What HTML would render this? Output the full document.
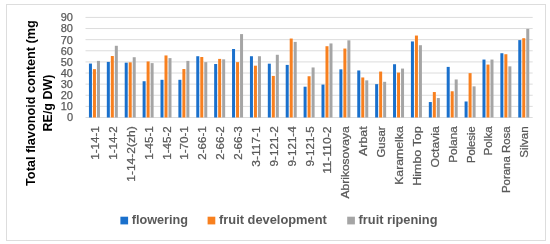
<!DOCTYPE html>
<html><head><meta charset="utf-8"><title>chart</title>
<style>html,body{margin:0;padding:0;background:#fff}body{width:550px;height:244px;overflow:hidden}svg{display:block}text{font-family:"Liberation Sans",sans-serif}</style></head><body>
<svg width="550" height="244" viewBox="0 0 550 244">
<rect x="0" y="0" width="550" height="244" fill="#fff"/>
<rect x="6.5" y="4.5" width="539" height="236" fill="#fff" stroke="#dddddd" stroke-width="1"/>
<line x1="85.5" y1="117.50" x2="532.7" y2="117.50" stroke="#dcdcdc" stroke-width="1"/>
<line x1="85.5" y1="106.38" x2="532.7" y2="106.38" stroke="#dcdcdc" stroke-width="1"/>
<line x1="85.5" y1="95.26" x2="532.7" y2="95.26" stroke="#dcdcdc" stroke-width="1"/>
<line x1="85.5" y1="84.14" x2="532.7" y2="84.14" stroke="#dcdcdc" stroke-width="1"/>
<line x1="85.5" y1="73.02" x2="532.7" y2="73.02" stroke="#dcdcdc" stroke-width="1"/>
<line x1="85.5" y1="61.90" x2="532.7" y2="61.90" stroke="#dcdcdc" stroke-width="1"/>
<line x1="85.5" y1="50.78" x2="532.7" y2="50.78" stroke="#dcdcdc" stroke-width="1"/>
<line x1="85.5" y1="39.66" x2="532.7" y2="39.66" stroke="#dcdcdc" stroke-width="1"/>
<line x1="85.5" y1="28.54" x2="532.7" y2="28.54" stroke="#dcdcdc" stroke-width="1"/>
<line x1="85.5" y1="17.42" x2="532.7" y2="17.42" stroke="#dcdcdc" stroke-width="1"/>
<rect x="88.94" y="63.57" width="3.0" height="53.93" fill="#1A70CC"/>
<rect x="92.94" y="69.13" width="3.0" height="48.37" fill="#F8801F"/>
<rect x="96.94" y="60.90" width="3.0" height="56.60" fill="#A5A5A5"/>
<rect x="106.83" y="61.90" width="3.0" height="55.60" fill="#1A70CC"/>
<rect x="110.83" y="56.01" width="3.0" height="61.49" fill="#F8801F"/>
<rect x="114.83" y="45.78" width="3.0" height="71.72" fill="#A5A5A5"/>
<rect x="124.72" y="62.68" width="3.0" height="54.82" fill="#1A70CC"/>
<rect x="128.72" y="62.34" width="3.0" height="55.16" fill="#F8801F"/>
<rect x="132.72" y="57.23" width="3.0" height="60.27" fill="#A5A5A5"/>
<rect x="142.61" y="81.25" width="3.0" height="36.25" fill="#1A70CC"/>
<rect x="146.61" y="61.46" width="3.0" height="56.04" fill="#F8801F"/>
<rect x="150.61" y="63.12" width="3.0" height="54.38" fill="#A5A5A5"/>
<rect x="160.50" y="79.80" width="3.0" height="37.70" fill="#1A70CC"/>
<rect x="164.50" y="55.45" width="3.0" height="62.05" fill="#F8801F"/>
<rect x="168.50" y="58.12" width="3.0" height="59.38" fill="#A5A5A5"/>
<rect x="178.38" y="79.80" width="3.0" height="37.70" fill="#1A70CC"/>
<rect x="182.38" y="69.02" width="3.0" height="48.48" fill="#F8801F"/>
<rect x="186.38" y="60.90" width="3.0" height="56.60" fill="#A5A5A5"/>
<rect x="196.27" y="56.23" width="3.0" height="61.27" fill="#1A70CC"/>
<rect x="200.27" y="57.01" width="3.0" height="60.49" fill="#F8801F"/>
<rect x="204.27" y="62.12" width="3.0" height="55.38" fill="#A5A5A5"/>
<rect x="214.16" y="64.01" width="3.0" height="53.49" fill="#1A70CC"/>
<rect x="218.16" y="58.90" width="3.0" height="58.60" fill="#F8801F"/>
<rect x="222.16" y="59.34" width="3.0" height="58.16" fill="#A5A5A5"/>
<rect x="232.05" y="49.00" width="3.0" height="68.50" fill="#1A70CC"/>
<rect x="236.05" y="62.12" width="3.0" height="55.38" fill="#F8801F"/>
<rect x="240.05" y="34.10" width="3.0" height="83.40" fill="#A5A5A5"/>
<rect x="249.94" y="56.23" width="3.0" height="61.27" fill="#1A70CC"/>
<rect x="253.94" y="65.68" width="3.0" height="51.82" fill="#F8801F"/>
<rect x="257.94" y="56.23" width="3.0" height="61.27" fill="#A5A5A5"/>
<rect x="267.82" y="63.68" width="3.0" height="53.82" fill="#1A70CC"/>
<rect x="271.82" y="75.91" width="3.0" height="41.59" fill="#F8801F"/>
<rect x="275.82" y="54.78" width="3.0" height="62.72" fill="#A5A5A5"/>
<rect x="285.71" y="64.90" width="3.0" height="52.60" fill="#1A70CC"/>
<rect x="289.71" y="38.55" width="3.0" height="78.95" fill="#F8801F"/>
<rect x="293.71" y="41.88" width="3.0" height="75.62" fill="#A5A5A5"/>
<rect x="303.60" y="86.70" width="3.0" height="30.80" fill="#1A70CC"/>
<rect x="307.60" y="76.24" width="3.0" height="41.26" fill="#F8801F"/>
<rect x="311.60" y="67.46" width="3.0" height="50.04" fill="#A5A5A5"/>
<rect x="321.49" y="84.58" width="3.0" height="32.92" fill="#1A70CC"/>
<rect x="325.49" y="46.22" width="3.0" height="71.28" fill="#F8801F"/>
<rect x="329.49" y="43.44" width="3.0" height="74.06" fill="#A5A5A5"/>
<rect x="339.38" y="69.35" width="3.0" height="48.15" fill="#1A70CC"/>
<rect x="343.38" y="48.56" width="3.0" height="68.94" fill="#F8801F"/>
<rect x="347.38" y="40.33" width="3.0" height="77.17" fill="#A5A5A5"/>
<rect x="357.26" y="70.46" width="3.0" height="47.04" fill="#1A70CC"/>
<rect x="361.26" y="77.47" width="3.0" height="40.03" fill="#F8801F"/>
<rect x="365.26" y="80.36" width="3.0" height="37.14" fill="#A5A5A5"/>
<rect x="375.15" y="84.14" width="3.0" height="33.36" fill="#1A70CC"/>
<rect x="379.15" y="71.57" width="3.0" height="45.93" fill="#F8801F"/>
<rect x="383.15" y="81.80" width="3.0" height="35.70" fill="#A5A5A5"/>
<rect x="393.04" y="64.24" width="3.0" height="53.26" fill="#1A70CC"/>
<rect x="397.04" y="72.58" width="3.0" height="44.92" fill="#F8801F"/>
<rect x="401.04" y="68.57" width="3.0" height="48.93" fill="#A5A5A5"/>
<rect x="410.93" y="41.44" width="3.0" height="76.06" fill="#1A70CC"/>
<rect x="414.93" y="35.55" width="3.0" height="81.95" fill="#F8801F"/>
<rect x="418.93" y="45.22" width="3.0" height="72.28" fill="#A5A5A5"/>
<rect x="428.82" y="102.04" width="3.0" height="15.46" fill="#1A70CC"/>
<rect x="432.82" y="92.04" width="3.0" height="25.46" fill="#F8801F"/>
<rect x="436.82" y="98.04" width="3.0" height="19.46" fill="#A5A5A5"/>
<rect x="446.70" y="66.90" width="3.0" height="50.60" fill="#1A70CC"/>
<rect x="450.70" y="91.26" width="3.0" height="26.24" fill="#F8801F"/>
<rect x="454.70" y="79.47" width="3.0" height="38.03" fill="#A5A5A5"/>
<rect x="464.59" y="101.49" width="3.0" height="16.01" fill="#1A70CC"/>
<rect x="468.59" y="73.13" width="3.0" height="44.37" fill="#F8801F"/>
<rect x="472.59" y="86.36" width="3.0" height="31.14" fill="#A5A5A5"/>
<rect x="482.48" y="59.56" width="3.0" height="57.94" fill="#1A70CC"/>
<rect x="486.48" y="64.57" width="3.0" height="52.93" fill="#F8801F"/>
<rect x="490.48" y="59.56" width="3.0" height="57.94" fill="#A5A5A5"/>
<rect x="500.37" y="53.23" width="3.0" height="64.27" fill="#1A70CC"/>
<rect x="504.37" y="54.23" width="3.0" height="63.27" fill="#F8801F"/>
<rect x="508.37" y="66.35" width="3.0" height="51.15" fill="#A5A5A5"/>
<rect x="518.26" y="40.10" width="3.0" height="77.40" fill="#1A70CC"/>
<rect x="522.26" y="38.21" width="3.0" height="79.29" fill="#F8801F"/>
<rect x="526.26" y="28.87" width="3.0" height="88.63" fill="#A5A5A5"/>
<text x="73" y="121.45" font-size="11" fill="#595959" stroke="#595959" stroke-width="0.25" text-anchor="end">0</text>
<text x="73" y="110.33" font-size="11" fill="#595959" stroke="#595959" stroke-width="0.25" text-anchor="end">10</text>
<text x="73" y="99.21" font-size="11" fill="#595959" stroke="#595959" stroke-width="0.25" text-anchor="end">20</text>
<text x="73" y="88.09" font-size="11" fill="#595959" stroke="#595959" stroke-width="0.25" text-anchor="end">30</text>
<text x="73" y="76.97" font-size="11" fill="#595959" stroke="#595959" stroke-width="0.25" text-anchor="end">40</text>
<text x="73" y="65.85" font-size="11" fill="#595959" stroke="#595959" stroke-width="0.25" text-anchor="end">50</text>
<text x="73" y="54.73" font-size="11" fill="#595959" stroke="#595959" stroke-width="0.25" text-anchor="end">60</text>
<text x="73" y="43.61" font-size="11" fill="#595959" stroke="#595959" stroke-width="0.25" text-anchor="end">70</text>
<text x="73" y="32.49" font-size="11" fill="#595959" stroke="#595959" stroke-width="0.25" text-anchor="end">80</text>
<text x="73" y="21.37" font-size="11" fill="#595959" stroke="#595959" stroke-width="0.25" text-anchor="end">90</text>
<text transform="translate(98.94,126.3) rotate(-90) scale(1.055,1)" font-size="11" fill="#595959" stroke="#595959" stroke-width="0.25" text-anchor="end">1-14-1</text>
<text transform="translate(116.83,126.3) rotate(-90) scale(1.055,1)" font-size="11" fill="#595959" stroke="#595959" stroke-width="0.25" text-anchor="end">1-14-2</text>
<text transform="translate(134.72,126.3) rotate(-90) scale(1.094,1)" font-size="11" fill="#595959" stroke="#595959" stroke-width="0.25" text-anchor="end">1-14-2(zh)</text>
<text transform="translate(152.61,126.3) rotate(-90) scale(1.055,1)" font-size="11" fill="#595959" stroke="#595959" stroke-width="0.25" text-anchor="end">1-45-1</text>
<text transform="translate(170.50,126.3) rotate(-90) scale(1.055,1)" font-size="11" fill="#595959" stroke="#595959" stroke-width="0.25" text-anchor="end">1-45-2</text>
<text transform="translate(188.38,126.3) rotate(-90) scale(1.055,1)" font-size="11" fill="#595959" stroke="#595959" stroke-width="0.25" text-anchor="end">1-70-1</text>
<text transform="translate(206.27,126.3) rotate(-90) scale(1.055,1)" font-size="11" fill="#595959" stroke="#595959" stroke-width="0.25" text-anchor="end">2-66-1</text>
<text transform="translate(224.16,126.3) rotate(-90) scale(1.055,1)" font-size="11" fill="#595959" stroke="#595959" stroke-width="0.25" text-anchor="end">2-66-2</text>
<text transform="translate(242.05,126.3) rotate(-90) scale(1.055,1)" font-size="11" fill="#595959" stroke="#595959" stroke-width="0.25" text-anchor="end">2-66-3</text>
<text transform="translate(259.94,126.3) rotate(-90) scale(1.089,1)" font-size="11" fill="#595959" stroke="#595959" stroke-width="0.25" text-anchor="end">3-117-1</text>
<text transform="translate(277.82,126.3) rotate(-90) scale(1.059,1)" font-size="11" fill="#595959" stroke="#595959" stroke-width="0.25" text-anchor="end">9-121-2</text>
<text transform="translate(295.71,126.3) rotate(-90) scale(1.059,1)" font-size="11" fill="#595959" stroke="#595959" stroke-width="0.25" text-anchor="end">9-121-4</text>
<text transform="translate(313.60,126.3) rotate(-90) scale(1.059,1)" font-size="11" fill="#595959" stroke="#595959" stroke-width="0.25" text-anchor="end">9-121-5</text>
<text transform="translate(331.49,126.3) rotate(-90) scale(1.12,1)" font-size="11" fill="#595959" stroke="#595959" stroke-width="0.25" text-anchor="end">11-110-2</text>
<text transform="translate(349.38,126.3) rotate(-90) scale(1.094,1)" font-size="11" fill="#595959" stroke="#595959" stroke-width="0.25" text-anchor="end">Abrikosovaya</text>
<text transform="translate(367.26,126.3) rotate(-90) scale(1.127,1)" font-size="11" fill="#595959" stroke="#595959" stroke-width="0.25" text-anchor="end">Arbat</text>
<text transform="translate(385.15,126.3) rotate(-90) scale(1.045,1)" font-size="11" fill="#595959" stroke="#595959" stroke-width="0.25" text-anchor="end">Gusar</text>
<text transform="translate(403.04,126.3) rotate(-90) scale(1.114,1)" font-size="11" fill="#595959" stroke="#595959" stroke-width="0.25" text-anchor="end">Karamelka</text>
<text transform="translate(420.93,126.3) rotate(-90) scale(1.139,1)" font-size="11" fill="#595959" stroke="#595959" stroke-width="0.25" text-anchor="end">Himbo Top</text>
<text transform="translate(438.82,126.3) rotate(-90) scale(1.103,1)" font-size="11" fill="#595959" stroke="#595959" stroke-width="0.25" text-anchor="end">Octavia</text>
<text transform="translate(456.70,126.3) rotate(-90) scale(1.064,1)" font-size="11" fill="#595959" stroke="#595959" stroke-width="0.25" text-anchor="end">Polana</text>
<text transform="translate(474.59,126.3) rotate(-90) scale(1.02,1)" font-size="11" fill="#595959" stroke="#595959" stroke-width="0.25" text-anchor="end">Polesie</text>
<text transform="translate(492.48,126.3) rotate(-90) scale(1.058,1)" font-size="11" fill="#595959" stroke="#595959" stroke-width="0.25" text-anchor="end">Polka</text>
<text transform="translate(510.37,126.3) rotate(-90) scale(1.041,1)" font-size="11" fill="#595959" stroke="#595959" stroke-width="0.25" text-anchor="end">Porana Rosa</text>
<text transform="translate(528.26,126.3) rotate(-90) scale(1.052,1)" font-size="11" fill="#595959" stroke="#595959" stroke-width="0.25" text-anchor="end">Silvan</text>
<text transform="translate(35,103.05) rotate(-90) scale(1.018,1)" font-size="12.5" font-weight="bold" fill="#000" text-anchor="middle">Total flavonoid content (mg</text>
<text transform="translate(52.1,103) rotate(-90)" font-size="12.5" font-weight="bold" fill="#000" text-anchor="middle">RE/g DW)</text>
<rect x="120.4" y="216.7" width="7.7" height="7.7" fill="#1A70CC"/>
<text x="131.7" y="224.4" font-size="12.6" font-weight="bold" fill="#595959" textLength="56.3" lengthAdjust="spacingAndGlyphs">flowering</text>
<rect x="207.6" y="216.7" width="7.7" height="7.7" fill="#F8801F"/>
<text x="219.0" y="224.4" font-size="12.6" font-weight="bold" fill="#595959" textLength="107.8" lengthAdjust="spacingAndGlyphs">fruit development</text>
<rect x="347.2" y="216.7" width="7.7" height="7.7" fill="#A5A5A5"/>
<text x="358.6" y="224.4" font-size="12.6" font-weight="bold" fill="#595959" textLength="78.9" lengthAdjust="spacingAndGlyphs">fruit ripening</text>
</svg></body></html>
